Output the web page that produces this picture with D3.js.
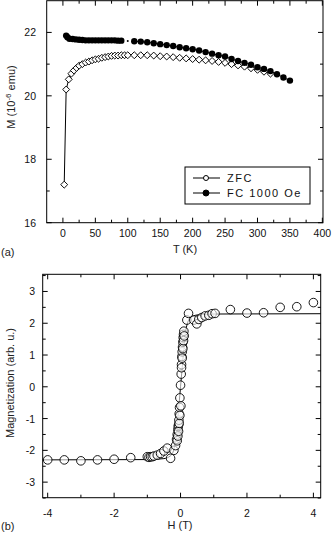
<!DOCTYPE html>
<html lang="en">
<head>
<meta charset="UTF-8">
<title>M(T) and M(H)</title>
<script src="https://d3js.org/d3.v7.min.js"></script>
<style>
    body { margin: 0; background: #fff; }
    svg { display: block; font-family: "Liberation Sans", Arial, sans-serif; }
    .frame { fill: none; stroke: #000; stroke-width: 1; }
    .tick { stroke: #000; stroke-width: 1; }
    .lbl { font-size: 10.5px; fill: #111; }
    .title { font-size: 11px; fill: #222; }
    .legend text { font-size: 11px; letter-spacing: 1.5px; fill: #111; }
</style>
</head>
<body>
<svg width="332" height="533"></svg>
<script>
// panel (a): M vs T
const zfcT = [2, 5, 9, 13, 17, 21, 25, 30, 35, 40, 45, 50, 55, 60, 65, 70, 75, 80, 85, 90, 95, 100,
    110, 120, 130, 140, 150, 160, 170, 180, 190, 200, 210, 220, 230, 240, 250, 260, 270, 280, 290, 300, 310, 320];
const zfcM = [17.2, 20.2, 20.52, 20.7, 20.8, 20.88, 20.95, 21.0, 21.05, 21.08, 21.12, 21.15, 21.17, 21.2, 21.22, 21.24, 21.26, 21.27, 21.27, 21.28, 21.28, 21.28,
    21.28, 21.28, 21.28, 21.27, 21.25, 21.24, 21.22, 21.2, 21.18, 21.16, 21.14, 21.12, 21.1, 21.07, 21.04, 21.0, 20.96, 20.92, 20.87, 20.82, 20.76, 20.7];
const fcT = [5, 7, 10, 15, 20, 25, 30, 35, 40, 45, 50, 55, 60, 65, 70, 75, 80, 85, 90,
    110, 120, 130, 140, 150, 160, 170, 180, 190, 200, 210, 220, 230, 240, 250, 260, 270, 280, 290, 300, 310, 320, 330, 340, 350];
const fcM = [21.9, 21.85, 21.8, 21.79, 21.78, 21.77, 21.76, 21.75, 21.75, 21.75, 21.75, 21.75, 21.75, 21.75, 21.75, 21.75, 21.75, 21.74, 21.74,
    21.72, 21.71, 21.69, 21.66, 21.63, 21.6, 21.57, 21.53, 21.5, 21.47, 21.43, 21.38, 21.33, 21.28, 21.24, 21.16, 21.1, 21.04, 20.98, 20.9, 20.85, 20.78, 20.68, 20.58, 20.48];
const tTicks = [0, 50, 100, 150, 200, 250, 300, 350, 400];
const mTicks = [16, 18, 20, 22];

// panel (b): M vs H
const hData = [-4, -3.5, -3, -2.5, -2, -1.5, -1, -0.95, -0.9, -0.85, -0.8, -0.7, -0.6, -0.5, -0.4, -0.3, -0.2,
    -0.15, -0.12, -0.1, -0.08, -0.07, -0.06, -0.05, -0.04, -0.03, -0.02, 0, 0.02, 0.03, 0.04, 0.05, 0.06, 0.07, 0.08, 0.09, 0.1,
    -0.1, -0.08, -0.06, -0.04, -0.02, 0.01, 0.03, 0.05, 0.07, 0.09, 0.11,
    0.19, 0.24, 0.4, 0.49, 0.55, 0.64, 0.74, 0.85, 0.95, 1.04, 1.5, 2, 2.5, 3, 3.5, 4];
const mData = [-2.3, -2.3, -2.33, -2.3, -2.28, -2.23, -2.2, -2.22, -2.2, -2.2, -2.18, -2.15, -2.1, -2.02, -1.93, -2.25, -2.0,
    -1.85, -1.65, -1.5, -1.35, -1.25, -1.2, -1.05, -0.85, -0.65, -0.35, 0.05, 0.4, 0.7, 0.95, 1.1, 1.25, 1.4, 1.55, 1.65, 1.75,
    -1.7, -1.55, -1.4, -1.15, -0.9, -0.6, 0.6, 0.9, 1.2, 1.45, 1.6,
    2.1, 2.31, 2.1, 1.98, 2.12, 2.18, 2.23, 2.25, 2.3, 2.31, 2.43, 2.32, 2.33, 2.5, 2.52, 2.65];
const fitH = [-4.15, -1, -0.5, -0.3, -0.2, -0.15, -0.1, -0.05, 0, 0.05, 0.1, 0.15, 0.2, 0.3, 0.5, 1, 4.22];
const fitM = [-2.3, -2.29, -2.26, -2.17, -1.97, -1.72, -1.2, -0.6, 0, 0.6, 1.2, 1.72, 1.97, 2.17, 2.26, 2.29, 2.3];
const hTicks = [-4, -2, 0, 2, 4];
const magTicks = [-3, -2, -1, 0, 1, 2, 3];

const svg = d3.select("svg");

function frame(g, x, y, xMajor, xMinor, yMajor, yMinor) {
    const [x0, x1] = x.range(), [y0, y1] = y.range();
    g.append("rect").attr("class", "frame")
        .attr("x", x0).attr("y", y1).attr("width", x1 - x0).attr("height", y0 - y1);
    const tk = (vals, len, horiz) => vals.forEach(v => {
        if (horiz) {
            const px = x(v);
            g.append("line").attr("class", "tick").attr("x1", px).attr("x2", px).attr("y1", y0).attr("y2", y0 - len);
            g.append("line").attr("class", "tick").attr("x1", px).attr("x2", px).attr("y1", y1).attr("y2", y1 + len);
        } else {
            const py = y(v);
            g.append("line").attr("class", "tick").attr("x1", x0).attr("x2", x0 + len).attr("y1", py).attr("y2", py);
            g.append("line").attr("class", "tick").attr("x1", x1).attr("x2", x1 - len).attr("y1", py).attr("y2", py);
        }
    });
    tk(xMajor, 5, true); tk(xMinor, 3, true);
    tk(yMajor, 5, false); tk(yMinor, 3, false);
}

// ---- panel a
const xa = d3.scaleLinear().domain([-25, 401]).range([46.7, 323]);
const ya = d3.scaleLinear().domain([16, 23]).range([222.7, 0.7]);
const ga = svg.append("g");

frame(ga, xa, ya, tTicks, d3.range(25, 400, 50), mTicks, [17, 19, 21]);

ga.selectAll(".xl").data(tTicks).join("text").attr("class", "lbl")
    .attr("x", d => xa(d)).attr("y", 237).attr("text-anchor", "middle").text(d => d);
ga.selectAll(".yl").data(mTicks).join("text").attr("class", "lbl")
    .attr("x", 36).attr("y", d => ya(d) + 4).attr("text-anchor", "end").text(d => d);

const zfc = zfcT.map((t, i) => [t, zfcM[i]]);
const fc = fcT.map((t, i) => [t, fcM[i]]);
const lineA = d3.line().x(d => xa(d[0])).y(d => ya(d[1]));

ga.append("path").attr("d", lineA(zfc)).attr("fill", "none").attr("stroke", "#000").attr("stroke-width", 1);
ga.append("path").attr("d", lineA(fc.slice(0, 19))).attr("fill", "none").attr("stroke", "#000").attr("stroke-width", 1);
ga.append("path").attr("d", lineA(fc.slice(19))).attr("fill", "none").attr("stroke", "#000").attr("stroke-width", 1);
ga.append("circle").attr("cx", xa(100)).attr("cy", ya(21.73)).attr("r", 1).attr("fill", "#000");

// open rotated squares for ZFC
const diamond = d3.symbol().type(d3.symbolSquare).size(24);
ga.selectAll(".zfc").data(zfc).join("path")
    .attr("transform", d => `translate(${xa(d[0])},${ya(d[1])}) rotate(45)`)
    .attr("d", diamond).attr("fill", "#fff").attr("stroke", "#000").attr("stroke-width", 0.9);
ga.selectAll(".fc").data(fc).join("circle")
    .attr("cx", d => xa(d[0])).attr("cy", d => ya(d[1])).attr("r", 3.2).attr("fill", "#000");

const leg = ga.append("g").attr("class", "legend");
leg.append("rect").attr("x", 185).attr("y", 167).attr("width", 125).attr("height", 37)
    .attr("fill", "#fff").attr("stroke", "#000");
[["ZFC", 178, false], ["FC 1000 Oe", 193, true]].forEach(([name, yy, filled]) => {
    leg.append("line").attr("x1", 193).attr("x2", 220).attr("y1", yy).attr("y2", yy).attr("stroke", "#000");
    leg.append("circle").attr("cx", 206).attr("cy", yy).attr("r", filled ? 3 : 2.5)
        .attr("fill", filled ? "#000" : "#fff").attr("stroke", "#000");
    leg.append("text").attr("x", 227).attr("y", yy + 4).text(name);
});

ga.append("text").attr("class", "title").attr("x", 185).attr("y", 253).attr("text-anchor", "middle").text("T (K)");
ga.append("text").attr("class", "title").attr("x", 1).attr("y", 256).text("(a)");
const yta = ga.append("text").attr("class", "title").attr("text-anchor", "middle")
    .attr("transform", "translate(15,97) rotate(-90)");
yta.append("tspan").text("M (10");
yta.append("tspan").attr("dy", -4).attr("font-size", "8px").text("-6");
yta.append("tspan").attr("dy", 4).text(" emu)");

// ---- panel b
const xb = d3.scaleLinear().domain([-4.15, 4.22]).range([42.7, 320.7]);
const yb = d3.scaleLinear().domain([-3.49, 3.54]).range([497.7, 274.3]);
const gb = svg.append("g");

frame(gb, xb, yb, hTicks, [-3, -1, 1, 3], magTicks, d3.range(-3.5, 3.6, 1));

gb.selectAll(".xl").data(hTicks).join("text").attr("class", "lbl")
    .attr("x", d => xb(d)).attr("y", 516.5).attr("text-anchor", "middle").text(d => d);
gb.selectAll(".yl").data(magTicks).join("text").attr("class", "lbl")
    .attr("x", 35).attr("y", d => yb(d) + 4).attr("text-anchor", "end").text(d => d);

const fit = fitH.map((h, i) => [h, fitM[i]]);
gb.append("path").attr("d", d3.line().x(d => xb(d[0])).y(d => yb(d[1])).curve(d3.curveMonotoneX)(fit))
    .attr("fill", "none").attr("stroke", "#000").attr("stroke-width", 1);

const pts = hData.map((h, i) => [h, mData[i]]);
gb.selectAll(".pt").data(pts).join("circle")
    .attr("cx", d => xb(d[0])).attr("cy", d => yb(d[1])).attr("r", 4.3)
    .attr("fill", "#fff").attr("fill-opacity", 0.6).attr("stroke", "#000").attr("stroke-width", 0.9);

gb.append("text").attr("class", "title").attr("x", 180).attr("y", 529).attr("text-anchor", "middle").text("H (T)");
gb.append("text").attr("class", "title").attr("x", 1).attr("y", 530).text("(b)");
gb.append("text").attr("class", "title").attr("text-anchor", "middle")
    .attr("transform", "translate(14,383) rotate(-90)").text("Magnetization (arb. u.)");
</script>
</body>
</html>
